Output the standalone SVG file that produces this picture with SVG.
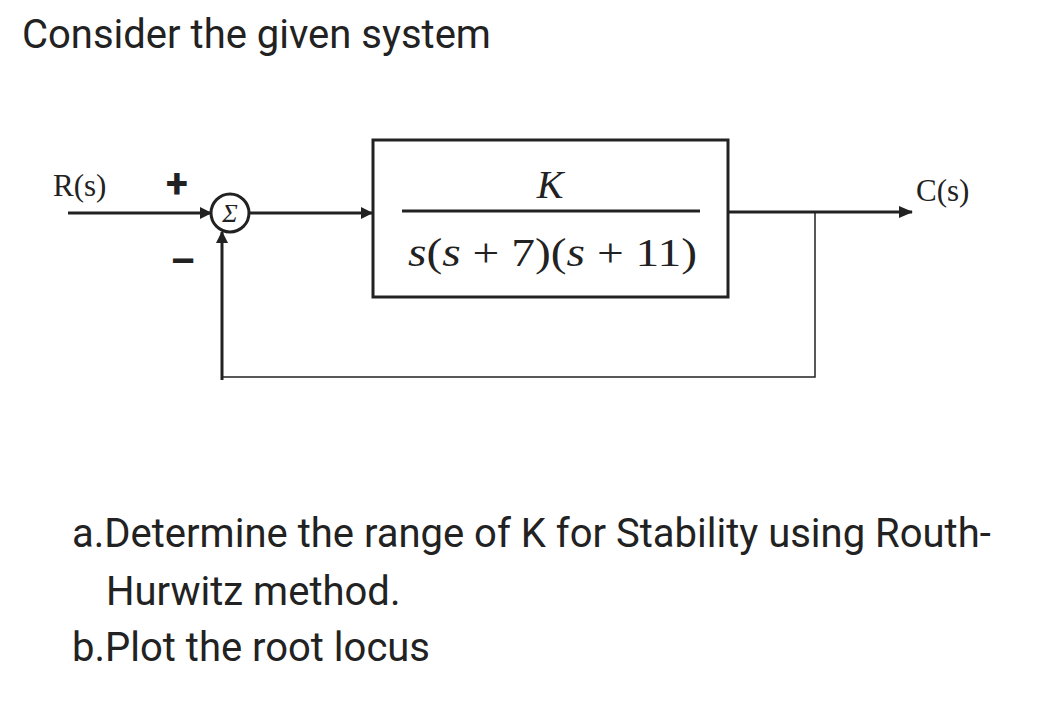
<svg xmlns="http://www.w3.org/2000/svg" width="1059" height="717" viewBox="0 0 1059 717">
<style>
.t{font-family:Roboto,"Liberation Sans",sans-serif;fill:#222;font-size:40px}
.s{font-family:"Liberation Serif",serif;fill:#222}
.l{stroke:#222;stroke-width:3;fill:none}
</style>
<defs><marker id="a" markerWidth="12" markerHeight="12" refX="11" refY="6" orient="auto" markerUnits="userSpaceOnUse"><path d="M0,0L12,6L0,12Z" fill="#222"/></marker>
<marker id="b" markerWidth="14" markerHeight="12" refX="13" refY="6" orient="auto" markerUnits="userSpaceOnUse"><path d="M0,0L14,6L0,12Z" fill="#222"/></marker></defs>
<rect width="1059" height="717" fill="#fff"/>
<text class="t" x="22" y="48">Consider the given system</text>
<g id="labels">
<text class="s" x="53" y="196" font-size="31">R(s)</text>
<text class="t" x="166" y="197" font-size="28" font-weight="bold">+</text>
<text class="t" x="170" y="275" font-size="30" font-weight="bold">–</text>
<text class="s" x="916" y="201" font-size="31">C(s)</text>
</g>
<g id="sum"><circle cx="230" cy="213" r="19" class="l" stroke-width="2"/><text class="s" x="230" y="222" font-size="26" font-style="italic" text-anchor="middle">Σ</text></g>
<g id="plant"><rect x="373" y="140" width="355" height="157" class="l"/>
<line x1="402" y1="211" x2="700" y2="211" class="l"/>
<text class="s" x="550" y="198" font-size="40" font-style="italic" text-anchor="middle">K</text>
<text class="s" x="408" y="266" font-size="40" textLength="289" lengthAdjust="spacingAndGlyphs"><tspan font-style="italic">s</tspan>(<tspan font-style="italic">s</tspan> + 7)(<tspan font-style="italic">s</tspan> + 11)</text></g>
<g id="connectors">
<line x1="68" y1="213" x2="211" y2="213" class="l" marker-end="url(#a)"/>
<line x1="249" y1="213" x2="372" y2="213" class="l" marker-end="url(#a)"/>
<line x1="728" y1="212" x2="912" y2="212" class="l" marker-end="url(#b)"/>
<polyline points="815,212 815,377 222,377" stroke="#222" stroke-width="1.5" fill="none"/>
<line x1="222" y1="380" x2="222" y2="232" class="l" marker-end="url(#a)"/>
</g>
<text class="t" x="72" y="547">a.Determine the range of K for Stability using Routh-</text>
<text class="t" x="106" y="605">Hurwitz method.</text>
<text class="t" x="72" y="661">b.Plot the root locus</text>
</svg>
